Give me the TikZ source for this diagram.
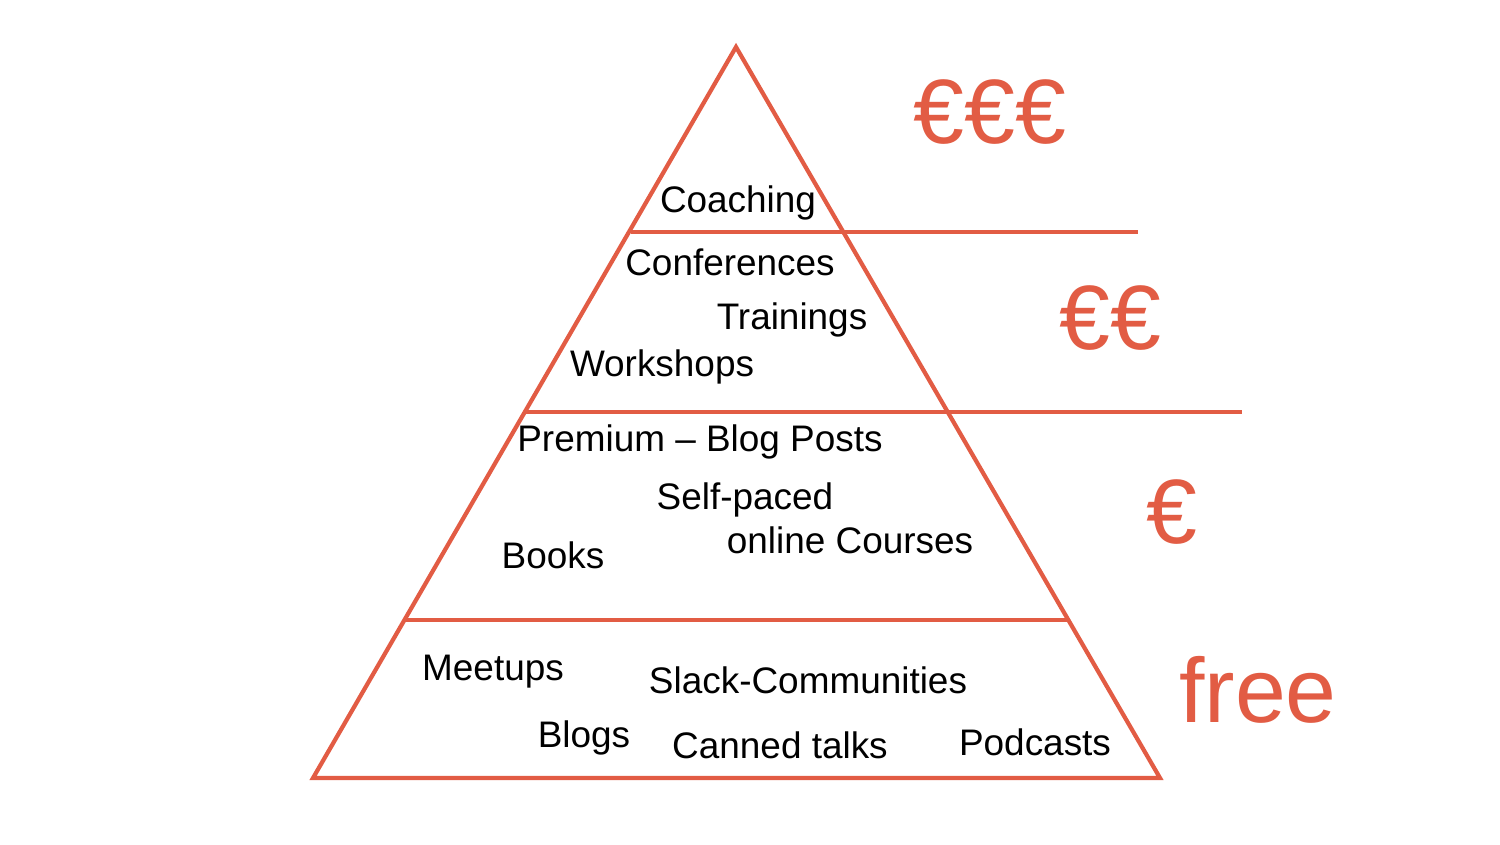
\documentclass[tikz,border=0pt]{standalone}
\usepackage{fontspec}
\setmainfont{Liberation Sans}
\definecolor{pred}{RGB}{226,92,68}
\begin{document}
\begin{tikzpicture}[x=0.01cm,y=-0.01cm,
  ln/.style={draw=pred,line width=1.2pt},
  lbl/.style={font=\fontsize{10.5}{12}\selectfont},
  eur/.style={text=pred,font=\fontsize{26}{30}\selectfont}]
\useasboundingbox (0,0) rectangle (1500,844);
\coordinate (apex) at (736,47);
\coordinate (bl) at (313,778);
\coordinate (br) at (1160,778);
\draw[ln,line join=miter] (apex) -- (bl) -- (br) -- cycle;
\coordinate (a1) at (631,232); \coordinate (a2) at (1138,232);
\coordinate (b1) at (524,412); \coordinate (b2) at (1242,412);
\coordinate (c1) at (405,620); \coordinate (c2) at (1068,620);
\draw[ln] (a1) -- (a2);
\draw[ln] (b1) -- (b2);
\draw[ln] (c1) -- (c2);
\node[lbl] (t1) at (738,203) {Coaching};
\node[lbl] (t2) at (730,262) {Conferences};
\node[lbl] (t3) at (792,320) {Trainings};
\node[lbl] (t4) at (662,367) {Workshops};
\node[lbl] (t5) at (700,442) {Premium -- Blog Posts};
\node[lbl] (t6) at (745,500) {Self-paced};
\node[lbl] (t7) at (850,540) {online Courses};
\node[lbl] (t8) at (553,555) {Books};
\node[lbl] (t9) at (493,672) {Meetups};
\node[lbl] (t10) at (808,680) {Slack-Communities};
\node[lbl] (t11) at (584,738) {Blogs};
\node[lbl] (t12) at (780,745) {Canned talks};
\node[lbl] (t13) at (1035,742) {Podcasts};
\node[eur] (e3) at (990,112) {€€€};
\node[eur] (e2) at (1110,318) {€€};
\node[eur] (e1) at (1172,512) {€};
\node[eur] (e0) at (1258,690) {free};
\end{tikzpicture}
\end{document}
